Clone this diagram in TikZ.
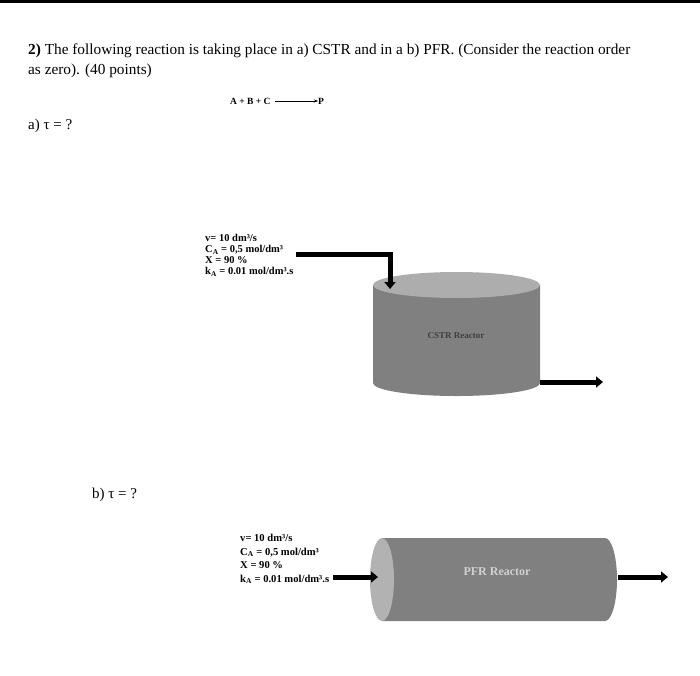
\documentclass[tikz,border=0pt]{standalone}
\usepackage{fontspec}
\setmainfont{Liberation Serif}
\usetikzlibrary{arrows.meta}
\begin{document}
\begin{tikzpicture}[x=1pt,y=-1pt,
  txt/.style={anchor=west,inner sep=0pt},
  pipe/.style={line width=5pt,-{Triangle[length=7pt,width=11pt]}},
  par/.style={anchor=north west,inner sep=0pt,align=left,font=\bfseries}]
\useasboundingbox (0,0) rectangle (700,675);
\fill[black] (0,0) rectangle (700,3);
\node[txt,font=\fontsize{15.3}{17}\selectfont] (q1) at (28,51) {\textbf{2)} The following reaction is taking place in a) CSTR and in a b) PFR. (Consider the reaction order};
\node[txt,font=\fontsize{15.3}{17}\selectfont] (q2) at (28,71) {as zero). (40 points)};
\node[txt,font=\bfseries\fontsize{9.5}{10}\selectfont] (r1) at (230,101) {A + B + C};
\node[txt,font=\bfseries\fontsize{9.5}{10}\selectfont] (r2) at (318,101) {P};
\draw[-{Stealth[length=4pt]}] (r1.east)++(4,0) -- (r2.west);
\node[txt,font=\fontsize{15}{17}\selectfont] (a) at (28,126) {a) τ = ?};
\node[txt,font=\fontsize{15}{17}\selectfont] (b) at (92,495) {b) τ = ?};
% CSTR
\fill[black!50] (373,285) -- (373,383) arc[start angle=180,end angle=0,x radius=83.5,y radius=13] -- (540,285) -- cycle;
\fill[black!32] (456.5,285) ellipse[x radius=83.5,y radius=13];
\node[font=\bfseries\fontsize{9}{10}\selectfont,text=black!75] (cstr) at (456,336) {CSTR Reactor};
\node[par,font=\bfseries\fontsize{10.5}{11}\selectfont] (p1) at (205,234) {v= 10 dm³/s\\C\textsubscript{A} = 0,5 mol/dm³\\X = 90 \%\\k\textsubscript{A} = 0.01 mol/dm³.s};
\coordinate (ci) at (296,254);
\coordinate (ct) at (390,289);
\draw[pipe] (ci) -- (390,254) -- (ct);
\coordinate (co1) at (540,382); \coordinate (co2) at (603,382);
\draw[pipe] (co1) -- (co2);
% PFR
\fill[black!50] (382,538) -- (605,538) arc[start angle=-90,end angle=90,x radius=12,y radius=41.5] -- (382,621) -- cycle;
\fill[black!30] (382,579.5) ellipse[x radius=12,y radius=41.5];
\node[font=\bfseries\fontsize{12}{13}\selectfont,text=black!18] (pfr) at (497,572) {PFR Reactor};
\node[par,font=\bfseries\fontsize{10.6}{13.5}\selectfont] (p2) at (240,534) {v= 10 dm³/s\\C\textsubscript{A} = 0,5 mol/dm³\\X = 90 \%\\k\textsubscript{A} = 0.01 mol/dm³.s};
\coordinate (pi1) at (333,577); \coordinate (pi2) at (378,577);
\draw[pipe] (pi1) -- (pi2);
\coordinate (po1) at (618,577); \coordinate (po2) at (668,577);
\draw[pipe] (po1) -- (po2);
\end{tikzpicture}
\end{document}
